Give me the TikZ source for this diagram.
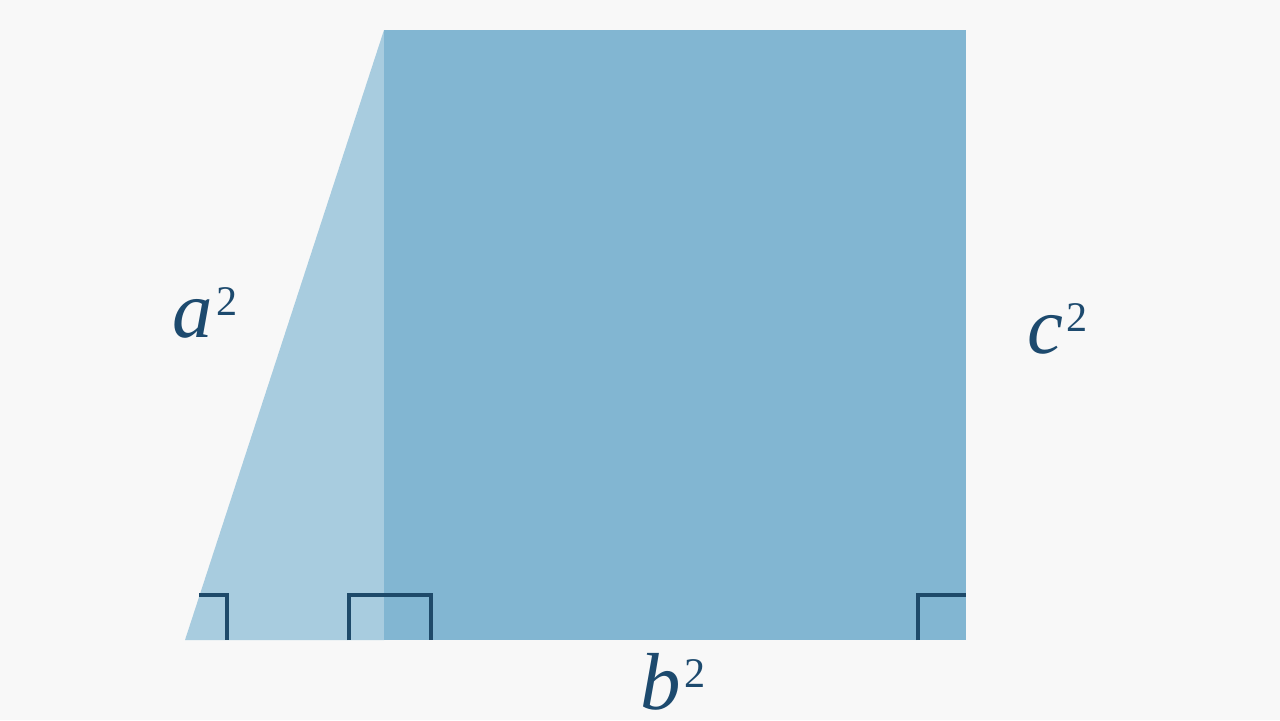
\documentclass[tikz,border=0pt]{standalone}
\usepackage{fontspec}
\setmainfont{Liberation Serif}
\newcommand{\supnum}[1]{\kern0.04em\raisebox{0.27em}{\normalfont\fontsize{12}{12}\selectfont #1}}
\begin{document}
\begin{tikzpicture}[x=0.01cm,y=-0.01cm,
  lbl/.style={text=labelblue,font=\fontsize{23}{27}\selectfont\itshape,inner sep=0pt,anchor=base west},
  rmark/.style={draw=markblue,line width=1.1pt,line cap=butt}]
\definecolor{bgc}{HTML}{F8F8F8}
\definecolor{lightb}{HTML}{A8CCDF}
\definecolor{midb}{HTML}{82B6D2}
\definecolor{markblue}{HTML}{1E4A6A}
\definecolor{labelblue}{HTML}{1D4A6E}
\fill[bgc] (0,0) rectangle (1280,720);
\useasboundingbox (0,0) rectangle (1280,720);
\coordinate (A) at (185,640);
\coordinate (T) at (384,30);
\coordinate (B) at (384,640);
\coordinate (TR) at (966,30);
\coordinate (BR) at (966,640);
\fill[lightb] (A) -- (T) -- (B) -- cycle;
\fill[midb] (T) -- (TR) -- (BR) -- (B) -- cycle;
\draw[rmark] (199,595) -- (227,595) -- (227,640);
\draw[rmark] (349,640) -- (349,595) -- (431,595) -- (431,640);
\draw[rmark] (918,640) -- (918,595) -- (966,595);
\node[lbl] (la) at (172,337) {a\supnum{2}};
\node[lbl] (lc) at (1027,353) {c\supnum{2}};
\node[lbl] (lb) at (640,709) {b\supnum{2}};
\end{tikzpicture}
\end{document}
